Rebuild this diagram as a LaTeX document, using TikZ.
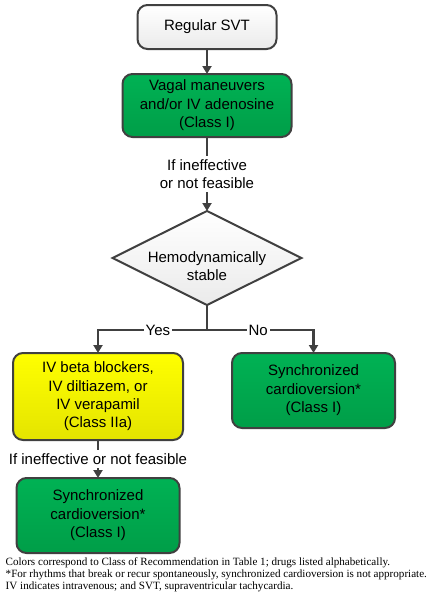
\documentclass[tikz,border=0pt]{standalone}
\usepackage{fontspec}
\setmainfont{Liberation Sans}
\newfontfamily\notefont{Liberation Serif}
\usetikzlibrary{arrows.meta,shapes.geometric,positioning}
\definecolor{edgegray}{HTML}{404040}
\definecolor{boxgreen}{HTML}{00B254}
\definecolor{boxgreendark}{HTML}{009E48}
\definecolor{boxyellow}{HTML}{FFFF00}
\definecolor{boxyellowdark}{HTML}{E4E400}
\tikzset{
    box/.style={
        rectangle,
        rounded corners=10pt,
        draw=edgegray,
        line width=2pt,
        outer sep=0pt,
        align=center,
        inner sep=0pt,
        font=\fontsize{15}{18.4}\selectfont,
    },
    startbox/.style={
        box,
        top color=white,
        bottom color=black!8,
    },
    greenbox/.style={
        box,
        top color=boxgreen,
        bottom color=boxgreendark,
    },
    yellowbox/.style={
        box,
        top color=boxyellow,
        bottom color=boxyellowdark,
    },
    decision/.style={
        diamond,
        aspect=2,
        draw=edgegray,
        line width=2pt,
        outer sep=0pt,
        inner sep=0pt,
        top color=white,
        bottom color=black!8,
        minimum width=189pt,
        minimum height=94pt,
        font=\fontsize{15}{18.4}\selectfont,
    },
    lbl/.style={
        fill=white,
        align=center,
        inner xsep=2pt,
        inner ysep=3pt,
        font=\fontsize{15}{18.4}\selectfont,
    },
    link/.style={
        draw=edgegray,
        line width=2.6pt,
    },
}

\begin{document}
\begin{tikzpicture}[node distance=25pt,>={Triangle[width=9pt,length=8pt]}]
    \useasboundingbox (0,0) rectangle (434pt,-605pt);

    \node [startbox,minimum width=139pt,minimum height=44pt] (svt) at (207pt,-27pt) {Regular SVT};
    \node [greenbox,minimum width=169pt,minimum height=63pt] (vagal) [below=of svt] {Vagal maneuvers\\and/or IV adenosine\\(Class I)};
    \node [decision] (stable) [below=74pt of vagal]
        {\raisebox{-13.5pt}[0pt][0pt]{\begin{tabular}{@{}c@{}}Hemodynamically\\stable\end{tabular}}};

    \coordinate [below=25pt of stable] (split);
    \coordinate [left=109pt of split] (yes-end);
    \coordinate [right=106.5pt of split] (no-end);

    \node [yellowbox,minimum width=170pt,minimum height=87pt] (drugs) [below=23pt of yes-end] {IV beta blockers,\\IV diltiazem, or\\IV verapamil\\(Class IIa)};
    \node [greenbox,minimum width=163pt,minimum height=75pt] (cardio) [below=23pt of no-end] {Synchronized\\cardioversion*\\(Class I)};
    \node [greenbox,minimum width=163pt,minimum height=75pt] (sync) [below=38pt of drugs] {Synchronized\\cardioversion*\\(Class I)};

    \path[link,->] (svt) -- (vagal);
    \path[link,->] (vagal) -- node[lbl] {If ineffective\\or not feasible} (stable);
    \path[link] (stable) -- (split);
    \path[link,->] (split) -- node[lbl,pos=0.45] {Yes} (yes-end) -- (drugs);
    \path[link,->] (split) -- node[lbl,pos=0.48] {No} (no-end) -- (cardio);
    \path[link,->] (drugs) -- node[lbl] {If ineffective or not feasible} (sync);

    \node [anchor=north west,inner sep=0pt,align=left,font=\notefont\fontsize{11.1}{12}\selectfont] (notes) at (5.5pt,-557.5pt)
        {Colors correspond to Class of Recommendation in Table 1; drugs listed alphabetically.\\
         *For rhythms that break or recur spontaneously, synchronized cardioversion is not appropriate.\\
         IV indicates intravenous; and SVT, supraventricular tachycardia.};
\end{tikzpicture}
\end{document}
